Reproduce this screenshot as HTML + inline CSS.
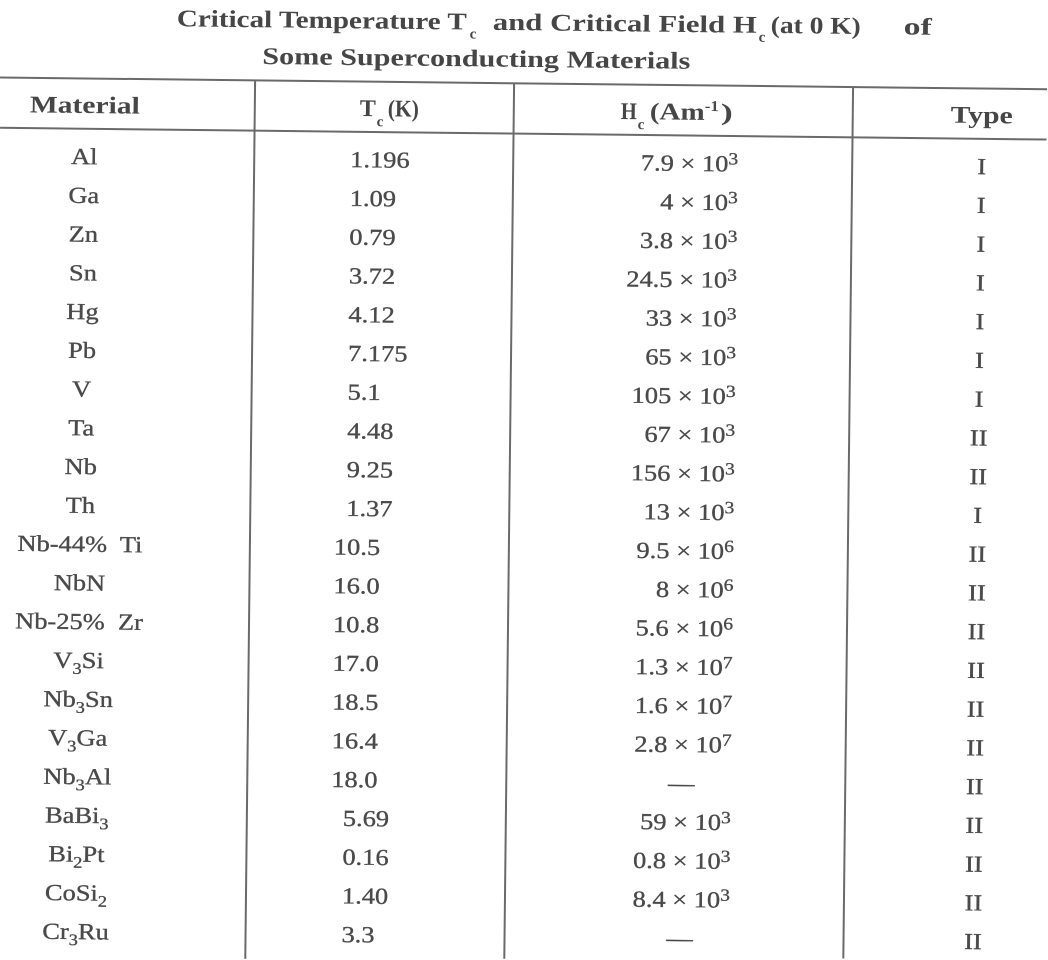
<!DOCTYPE html>
<html><head><meta charset="utf-8">
<style>
html,body{margin:0;padding:0;background:#fff;width:1048px;height:960px;overflow:hidden;}
svg{display:block;}
text{font-family:"Liberation Serif","DejaVu Serif",serif;fill:#4a4a4a;}
.b{font-weight:bold;font-size:24px;fill:#464646;}
.s{font-weight:bold;font-size:15px;fill:#464646;}
.d{font-size:23px;stroke:#4a4a4a;stroke-width:0.35px;}
.sub{font-size:16px;}
.sup{font-size:17px;}
</style></head><body>
<svg width="1048" height="960" viewBox="0 0 1048 960" xmlns="http://www.w3.org/2000/svg" style="overflow:hidden">
<rect width="1048" height="960" fill="#fff"/>
<g transform="rotate(0.642)">
<g stroke="#6a6a6a" stroke-width="2" fill="none">
<line x1="0.9" y1="77.5" x2="1048" y2="77.5"/>
<line x1="1.5" y1="127.8" x2="1048" y2="127.8"/>
<line x1="256" y1="77.5" x2="256" y2="956"/>
<line x1="515" y1="77.5" x2="515" y2="953"/>
<line x1="854" y1="77.5" x2="854" y2="949"/>
</g>

<!-- Title -->
<text class="b" x="177" y="24.3" textLength="290" lengthAdjust="spacingAndGlyphs">Critical Temperature T</text>
<text class="s" x="470" y="33.3">c</text>
<text class="b" x="493" y="24.3" textLength="264" lengthAdjust="spacingAndGlyphs">and Critical Field H</text>
<text class="s" x="759" y="33.3">c</text>
<text class="b" x="771" y="24.3" textLength="90" lengthAdjust="spacingAndGlyphs">(at 0 K)</text>
<text class="b" x="904" y="24.3" textLength="28" lengthAdjust="spacingAndGlyphs">of</text>
<text class="b" x="263" y="61" textLength="428" lengthAdjust="spacingAndGlyphs">Some Superconducting Materials</text>

<!-- Header -->
<text class="b" x="31" y="112" textLength="110" lengthAdjust="spacingAndGlyphs">Material</text>
<text class="b" x="361" y="112" textLength="16" lengthAdjust="spacingAndGlyphs">T</text>
<text class="s" x="378" y="122">c</text>
<text class="b" x="389" y="112" textLength="31" lengthAdjust="spacingAndGlyphs">(K)</text>
<text class="b" x="622" y="112" textLength="16" lengthAdjust="spacingAndGlyphs">H</text>
<text class="s" x="639" y="122">c</text>
<text class="b" x="651" y="112" textLength="55" lengthAdjust="spacingAndGlyphs">(Am</text>
<text class="s" x="706" y="103" textLength="14" lengthAdjust="spacingAndGlyphs">-1</text>
<text class="b" x="722" y="112" textLength="12" lengthAdjust="spacingAndGlyphs">)</text>
<text class="b" x="952" y="112" textLength="62" lengthAdjust="spacingAndGlyphs">Type</text>

<!-- Material column -->
<text class="d" text-anchor="middle" transform="translate(86,163.2) scale(1.15,1)">Al</text>
<text class="d" text-anchor="middle" transform="translate(86,201.95) scale(1.15,1)">Ga</text>
<text class="d" text-anchor="middle" transform="translate(86,240.7) scale(1.15,1)">Zn</text>
<text class="d" text-anchor="middle" transform="translate(86,279.45) scale(1.15,1)">Sn</text>
<text class="d" text-anchor="middle" transform="translate(86,318.2) scale(1.15,1)">Hg</text>
<text class="d" text-anchor="middle" transform="translate(86,356.95) scale(1.15,1)">Pb</text>
<text class="d" text-anchor="middle" transform="translate(86,395.7) scale(1.15,1)">V</text>
<text class="d" text-anchor="middle" transform="translate(86,434.45) scale(1.15,1)">Ta</text>
<text class="d" text-anchor="middle" transform="translate(86,473.2) scale(1.15,1)">Nb</text>
<text class="d" text-anchor="middle" transform="translate(86,511.95) scale(1.15,1)">Th</text>
<text class="d" text-anchor="middle" transform="translate(86,550.7) scale(1.15,1)">Nb-44%&#160; Ti</text>
<text class="d" text-anchor="middle" transform="translate(86,589.45) scale(1.15,1)">NbN</text>
<text class="d" text-anchor="middle" transform="translate(86,628.2) scale(1.15,1)">Nb-25%&#160; Zr</text>
<text class="d" text-anchor="middle" transform="translate(86,666.95) scale(1.15,1)">V<tspan class="sub" dy="6">3</tspan><tspan dy="-6">Si</tspan></text>
<text class="d" text-anchor="middle" transform="translate(86,705.7) scale(1.15,1)">Nb<tspan class="sub" dy="6">3</tspan><tspan dy="-6">Sn</tspan></text>
<text class="d" text-anchor="middle" transform="translate(86,744.45) scale(1.15,1)">V<tspan class="sub" dy="6">3</tspan><tspan dy="-6">Ga</tspan></text>
<text class="d" text-anchor="middle" transform="translate(86,783.2) scale(1.15,1)">Nb<tspan class="sub" dy="6">3</tspan><tspan dy="-6">Al</tspan></text>
<text class="d" text-anchor="middle" transform="translate(86,821.95) scale(1.15,1)">BaBi<tspan class="sub" dy="6">3</tspan></text>
<text class="d" text-anchor="middle" transform="translate(86,860.7) scale(1.15,1)">Bi<tspan class="sub" dy="6">2</tspan><tspan dy="-6">Pt</tspan></text>
<text class="d" text-anchor="middle" transform="translate(86,899.45) scale(1.15,1)">CoSi<tspan class="sub" dy="6">2</tspan></text>
<text class="d" text-anchor="middle" transform="translate(86,938.2) scale(1.15,1)">Cr<tspan class="sub" dy="6">3</tspan><tspan dy="-6">Ru</tspan></text>

<!-- Tc column -->
<text class="d" transform="translate(352,163.2) scale(1.15,1)">1.196</text>
<text class="d" transform="translate(352,201.95) scale(1.15,1)">1.09</text>
<text class="d" transform="translate(352,240.7) scale(1.15,1)">0.79</text>
<text class="d" transform="translate(352,279.45) scale(1.15,1)">3.72</text>
<text class="d" transform="translate(352,318.2) scale(1.15,1)">4.12</text>
<text class="d" transform="translate(352,356.95) scale(1.15,1)">7.175</text>
<text class="d" transform="translate(352,395.7) scale(1.15,1)">5.1</text>
<text class="d" transform="translate(352,434.45) scale(1.15,1)">4.48</text>
<text class="d" transform="translate(352,473.2) scale(1.15,1)">9.25</text>
<text class="d" transform="translate(352,511.95) scale(1.15,1)">1.37</text>
<text class="d" transform="translate(340,550.7) scale(1.15,1)">10.5</text>
<text class="d" transform="translate(340,589.45) scale(1.15,1)">16.0</text>
<text class="d" transform="translate(340,628.2) scale(1.15,1)">10.8</text>
<text class="d" transform="translate(340,666.95) scale(1.15,1)">17.0</text>
<text class="d" transform="translate(340,705.7) scale(1.15,1)">18.5</text>
<text class="d" transform="translate(340,744.45) scale(1.15,1)">16.4</text>
<text class="d" transform="translate(340,783.2) scale(1.15,1)">18.0</text>
<text class="d" transform="translate(352,821.95) scale(1.15,1)">5.69</text>
<text class="d" transform="translate(352,860.7) scale(1.15,1)">0.16</text>
<text class="d" transform="translate(352,899.45) scale(1.15,1)">1.40</text>
<text class="d" transform="translate(352,938.2) scale(1.15,1)">3.3</text>

<!-- Hc column -->
<text class="d" text-anchor="end" transform="translate(740,163.2) scale(1.15,1)">7.9 × 10<tspan class="sup" dy="-7">3</tspan></text>
<text class="d" text-anchor="end" transform="translate(740,201.95) scale(1.15,1)">4 × 10<tspan class="sup" dy="-7">3</tspan></text>
<text class="d" text-anchor="end" transform="translate(740,240.7) scale(1.15,1)">3.8 × 10<tspan class="sup" dy="-7">3</tspan></text>
<text class="d" text-anchor="end" transform="translate(740,279.45) scale(1.15,1)">24.5 × 10<tspan class="sup" dy="-7">3</tspan></text>
<text class="d" text-anchor="end" transform="translate(740,318.2) scale(1.15,1)">33 × 10<tspan class="sup" dy="-7">3</tspan></text>
<text class="d" text-anchor="end" transform="translate(740,356.95) scale(1.15,1)">65 × 10<tspan class="sup" dy="-7">3</tspan></text>
<text class="d" text-anchor="end" transform="translate(740,395.7) scale(1.15,1)">105 × 10<tspan class="sup" dy="-7">3</tspan></text>
<text class="d" text-anchor="end" transform="translate(740,434.45) scale(1.15,1)">67 × 10<tspan class="sup" dy="-7">3</tspan></text>
<text class="d" text-anchor="end" transform="translate(740,473.2) scale(1.15,1)">156 × 10<tspan class="sup" dy="-7">3</tspan></text>
<text class="d" text-anchor="end" transform="translate(740,511.95) scale(1.15,1)">13 × 10<tspan class="sup" dy="-7">3</tspan></text>
<text class="d" text-anchor="end" transform="translate(740,550.7) scale(1.15,1)">9.5 × 10<tspan class="sup" dy="-7">6</tspan></text>
<text class="d" text-anchor="end" transform="translate(740,589.45) scale(1.15,1)">8 × 10<tspan class="sup" dy="-7">6</tspan></text>
<text class="d" text-anchor="end" transform="translate(740,628.2) scale(1.15,1)">5.6 × 10<tspan class="sup" dy="-7">6</tspan></text>
<text class="d" text-anchor="end" transform="translate(740,666.95) scale(1.15,1)">1.3 × 10<tspan class="sup" dy="-7">7</tspan></text>
<text class="d" text-anchor="end" transform="translate(740,705.7) scale(1.15,1)">1.6 × 10<tspan class="sup" dy="-7">7</tspan></text>
<text class="d" text-anchor="end" transform="translate(740,744.45) scale(1.15,1)">2.8 × 10<tspan class="sup" dy="-7">7</tspan></text>
<text class="d" text-anchor="middle" transform="translate(690,783.2) scale(1.15,1)">—</text>
<text class="d" text-anchor="end" transform="translate(740,821.95) scale(1.15,1)">59 × 10<tspan class="sup" dy="-7">3</tspan></text>
<text class="d" text-anchor="end" transform="translate(740,860.7) scale(1.15,1)">0.8 × 10<tspan class="sup" dy="-7">3</tspan></text>
<text class="d" text-anchor="end" transform="translate(740,899.45) scale(1.15,1)">8.4 × 10<tspan class="sup" dy="-7">3</tspan></text>
<text class="d" text-anchor="middle" transform="translate(690,938.2) scale(1.15,1)">—</text>

<!-- Type column -->
<text class="d" text-anchor="middle" transform="translate(983.5,163.2) scale(1.15,1)">I</text>
<text class="d" text-anchor="middle" transform="translate(983.5,201.95) scale(1.15,1)">I</text>
<text class="d" text-anchor="middle" transform="translate(983.5,240.7) scale(1.15,1)">I</text>
<text class="d" text-anchor="middle" transform="translate(983.5,279.45) scale(1.15,1)">I</text>
<text class="d" text-anchor="middle" transform="translate(983.5,318.2) scale(1.15,1)">I</text>
<text class="d" text-anchor="middle" transform="translate(983.5,356.95) scale(1.15,1)">I</text>
<text class="d" text-anchor="middle" transform="translate(983.5,395.7) scale(1.15,1)">I</text>
<text class="d" text-anchor="middle" transform="translate(983.5,434.45) scale(1.15,1)">II</text>
<text class="d" text-anchor="middle" transform="translate(983.5,473.2) scale(1.15,1)">II</text>
<text class="d" text-anchor="middle" transform="translate(983.5,511.95) scale(1.15,1)">I</text>
<text class="d" text-anchor="middle" transform="translate(983.5,550.7) scale(1.15,1)">II</text>
<text class="d" text-anchor="middle" transform="translate(983.5,589.45) scale(1.15,1)">II</text>
<text class="d" text-anchor="middle" transform="translate(983.5,628.2) scale(1.15,1)">II</text>
<text class="d" text-anchor="middle" transform="translate(983.5,666.95) scale(1.15,1)">II</text>
<text class="d" text-anchor="middle" transform="translate(983.5,705.7) scale(1.15,1)">II</text>
<text class="d" text-anchor="middle" transform="translate(983.5,744.45) scale(1.15,1)">II</text>
<text class="d" text-anchor="middle" transform="translate(983.5,783.2) scale(1.15,1)">II</text>
<text class="d" text-anchor="middle" transform="translate(983.5,821.95) scale(1.15,1)">II</text>
<text class="d" text-anchor="middle" transform="translate(983.5,860.7) scale(1.15,1)">II</text>
<text class="d" text-anchor="middle" transform="translate(983.5,899.45) scale(1.15,1)">II</text>
<text class="d" text-anchor="middle" transform="translate(983.5,938.2) scale(1.15,1)">II</text>
</g>
</svg>
</body></html>
